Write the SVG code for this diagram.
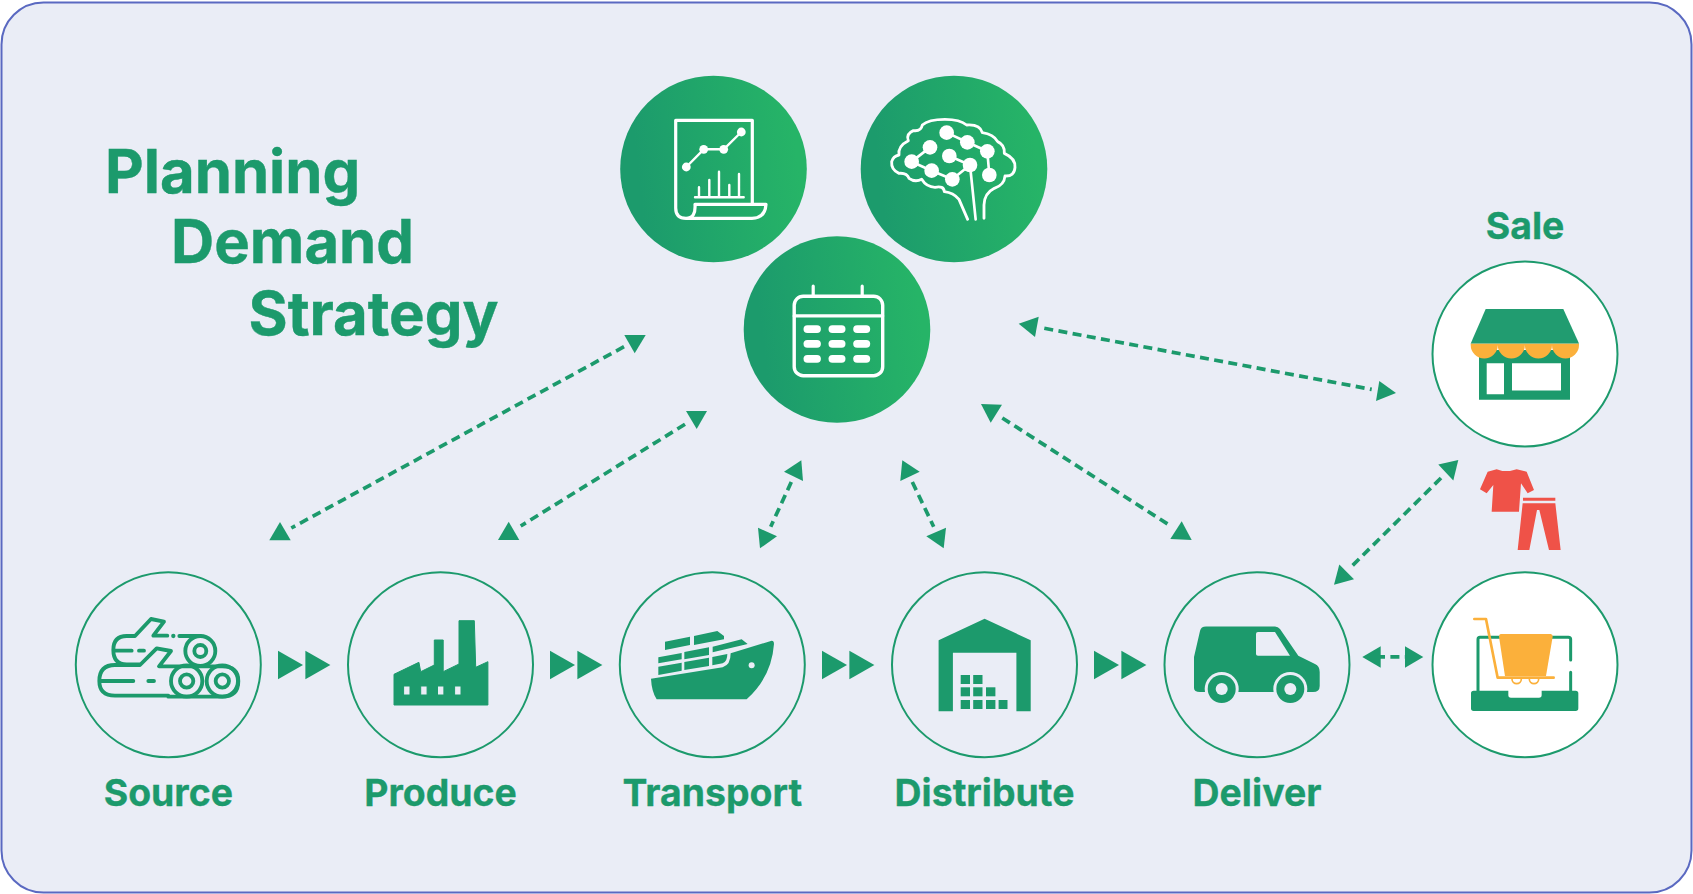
<svg xmlns="http://www.w3.org/2000/svg" width="1693" height="894" viewBox="0 0 1693 894">
<style>
.lbl{font-family:Inter,"Liberation Sans",sans-serif;font-weight:700;font-size:37.4px;fill:#1C9A6C;text-anchor:middle;stroke:#1C9A6C;stroke-width:.3}
.ttl{font-family:Inter,"Liberation Sans",sans-serif;font-weight:700;font-size:59.8px;fill:#1C9A6C;stroke:#1C9A6C;stroke-width:.4}
.ring{fill:none;stroke:#1C9A6C;stroke-width:2}
.ringw{fill:#fff;stroke:#1C9A6C;stroke-width:2}
.g{fill:#1C9A6C}
.dash{fill:none;stroke:#1C9A6C;stroke-width:3.7;stroke-dasharray:9 5.4}
.w{fill:none;stroke:#fff;stroke-linecap:round;stroke-linejoin:round}
.ws{fill:#fff}
.bg{fill:#EAEDF6}
.sl{fill:none;stroke:#1C9A6C;stroke-width:11.5;stroke-linecap:round;stroke-linejoin:round}
</style>
<defs>
<linearGradient id="grad" x1="0.1" y1="0.55" x2="0.95" y2="0.45">
<stop offset="0" stop-color="#1C9B6C"/><stop offset="1" stop-color="#26B467"/>
</linearGradient>
<polygon id="chev" points="0,-14.3 25,0 0,14.3" fill="#1C9A6C"/>
</defs>
<rect x="1.5" y="2.5" width="1690" height="890" rx="42" fill="#EAEDF6" stroke="#5A69C1" stroke-width="2"/>
<g id="title">
<text class="ttl" x="105" y="193.3">Planning</text>
<text class="ttl" x="171" y="263.3">Demand</text>
<text class="ttl" x="248.5" y="335.3">Strategy</text>
</g>
<g id="connectors">
<line class="dash" x1="624" y1="346.7" x2="291.3" y2="528"/>
<polygon class="g" points="624.3,335 645.7,335 634.7,353.3"/>
<polygon class="g" points="280,522 269.3,540.3 290.7,540.3"/>
<line class="dash" x1="685" y1="424.3" x2="520.7" y2="526"/>
<polygon class="g" points="686,411 707,411 696.7,429"/>
<polygon class="g" points="508.7,521.7 498,540 519.3,540"/>
<line class="dash" x1="791.3" y1="482" x2="770.7" y2="526.7"/>
<polygon class="g" points="801.3,460.3 784,471.7 803,481"/>
<polygon class="g" points="758,527.7 777,536.3 760,548.3"/>
<line class="dash" x1="912.3" y1="482" x2="933.7" y2="526.7"/>
<polygon class="g" points="902.3,460.3 919.7,471.7 900.3,481"/>
<polygon class="g" points="946,527.7 926.3,536.3 943.7,548.3"/>
<line class="dash" x1="1002.3" y1="418" x2="1170.7" y2="526"/>
<polygon class="g" points="981,404 1002,404.7 990.7,422.7"/>
<polygon class="g" points="1181.7,521.3 1170.3,539 1191.7,540"/>
<line class="dash" x1="1044.3" y1="328.3" x2="1371.7" y2="389.4"/>
<polygon class="g" points="1038.7,316.7 1018.7,323.7 1035,337"/>
<polygon class="g" points="1379.3,380.9 1396,393.1 1376,400.9"/>
<line class="dash" x1="1441" y1="478" x2="1351.7" y2="566.3"/>
<polygon class="g" points="1458.3,460 1438.3,464.5 1453.3,480.4"/>
<polygon class="g" points="1339.3,564.4 1334,584.8 1354,579.2"/>
<line class="dash" x1="1376" y1="656.9" x2="1410" y2="656.9"/>
<polygon class="g" points="1380.7,646.2 1362.3,656.9 1380.7,667.7"/>
<polygon class="g" points="1405,646.2 1423.3,656.9 1405,667.7"/>
<use href="#chev" x="278" y="665"/><use href="#chev" x="305.4" y="665"/>
<use href="#chev" x="550" y="665"/><use href="#chev" x="577.4" y="665"/>
<use href="#chev" x="822" y="665"/><use href="#chev" x="849.4" y="665"/>
<use href="#chev" x="1094" y="665"/><use href="#chev" x="1121.4" y="665"/>
</g>
<g id="node-analytics">
<circle cx="713.5" cy="169" r="93.3" fill="url(#grad)"/>
<path class="w" stroke-width="3.2" d="M695 204.3H766Q765 218.3 752 218.3H686Q675.7 218.3 675.7 208V120.3H752.3V204.3M695 204.3Q696 218.3 686 218.3"/>
<path class="w" stroke-width="2.4" d="M686.3 167L703.7 149.3H723.7L741.3 132M695 197.3H743.7M699 197.3V187.3M709.3 197.3V180M719 197.3V171.7M729.3 197.3V185M739 197.3V174"/>
<circle class="ws" cx="686.3" cy="167" r="4.4"/><circle class="ws" cx="703.7" cy="149.3" r="4.4"/><circle class="ws" cx="723.7" cy="149.3" r="4.4"/><circle class="ws" cx="741.3" cy="132" r="4.4"/>
</g>
<g id="node-brain">
<circle cx="954" cy="169" r="93.3" fill="url(#grad)"/>
<g transform="translate(885 110) scale(.3333)">
<path class="w" stroke-width="8.5" d="M248 328L222 268Q205 248 178 245Q176 226 150 232Q125 232 110 208Q90 218 72 205Q66 188 42 190Q18 180 20 155Q25 138 42 135Q38 108 70 92Q62 72 85 62Q108 65 112 45Q130 28 180 28Q225 28 245 45Q285 42 292 68Q325 72 338 95Q360 105 358 130Q392 145 390 172Q388 200 360 198Q358 225 328 235Q298 250 297 285V325"/>
<path class="w" stroke-width="8" d="M185 68L247 97L307 124L313 195M193 138L255 165M135 112L80 155L140 182L202 208L255 165L272 328"/>
<circle class="ws" cx="185" cy="68" r="22"/><circle class="ws" cx="247" cy="97" r="22"/><circle class="ws" cx="307" cy="124" r="22"/><circle class="ws" cx="313" cy="195" r="22"/><circle class="ws" cx="255" cy="165" r="22"/><circle class="ws" cx="193" cy="138" r="22"/><circle class="ws" cx="135" cy="112" r="22"/><circle class="ws" cx="80" cy="155" r="22"/><circle class="ws" cx="140" cy="182" r="22"/><circle class="ws" cx="202" cy="208" r="22"/>
</g>
</g>
<g id="node-calendar">
<circle cx="837" cy="329.5" r="93.3" fill="url(#grad)"/>
<g transform="translate(-.8 -.8)">
<rect x="795" y="297" width="88.5" height="79.5" rx="9" fill="none" stroke="#fff" stroke-width="3.4"/>
<path class="w" stroke-width="3.2" d="M795 316.7H883.5M814 287V297M863 287V297"/>
<g class="ws">
<rect x="804.3" y="326" width="17.4" height="7.8" rx="3.9"/><rect x="829.3" y="326" width="17" height="7.8" rx="3.9"/><rect x="854" y="326" width="17" height="7.8" rx="3.9"/>
<rect x="804.3" y="340.7" width="17.4" height="7.8" rx="3.9"/><rect x="829.3" y="340.7" width="17" height="7.8" rx="3.9"/><rect x="854" y="340.7" width="17" height="7.8" rx="3.9"/>
<rect x="804.3" y="355.7" width="17.4" height="7.8" rx="3.9"/><rect x="829.3" y="355.7" width="17" height="7.8" rx="3.9"/><rect x="854" y="355.7" width="17" height="7.8" rx="3.9"/>
</g>
</g>
</g>
<g id="node-source">
<circle class="ring" cx="168.3" cy="664.7" r="92.5"/>
<g transform="translate(90 605) scale(.3333)">
<circle class="sl" cx="331" cy="138" r="45"/><circle class="sl" cx="331" cy="138" r="18"/>
<path class="sl" d="M148 178H110Q70 178 70 135Q70 93 110 93H135L183 42L222 50L190 92H232M268 93H331M72 137H125M147 137H162"/>
<circle class="g" cx="250" cy="93" r="6.5"/>
<path class="sl" d="M235 272H75Q28 272 28 228Q28 180 75 180H150L200 130L243 138L207 184H397Q445 184 445 228Q445 275 397 275H235M30 228H130M175 228H192"/>
<circle class="sl" cx="290" cy="228" r="47"/><circle class="sl" cx="290" cy="228" r="20"/>
<circle class="sl" cx="397" cy="228" r="47"/><circle class="sl" cx="397" cy="228" r="20"/>
</g>
<text class="lbl" x="168.3" y="805.6">Source</text>
</g>
<g id="node-produce">
<circle class="ring" cx="440.5" cy="664.7" r="92.5"/>
<path class="g" fill-rule="evenodd" stroke="#1C9A6C" stroke-width="1" stroke-linejoin="round" d="M394 674.3L418.9 662.3L420.7 671.7L434.3 665V640H443.2V671.7L459 664V620.7H474.3L475.7 667.3L487.9 661.7V705H394ZM403.6 686V695H410V686ZM420.7 686V695H427.1V686ZM437.5 686V695H443.9V686ZM454.6 686V695H461V686Z"/>
<text class="lbl" x="440.5" y="805.6">Produce</text>
</g>
<g id="node-transport">
<circle class="ring" cx="712.3" cy="664.7" r="92.5"/>
<g class="g" transform="translate(640 620) scale(.3333)">
<path d="M33 176L248 142Q272 135 272 100L395 62Q402 62 402 72Q395 170 320 238H50Q35 215 33 176Z"/>
<path d="M75 65L150 50V75L75 90ZM162 48L232 33L252 48V58L162 75ZM55 112L125 99V118L55 130ZM133 96L207 82V105L133 118ZM218 80L305 58L323 72L218 97ZM55 140L125 128V152L55 165ZM133 126L207 113V138L133 150ZM217 111L262 102Q262 125 248 130L217 136Z"/>
<circle class="bg" cx="335" cy="136" r="9"/>
</g>
<text class="lbl" x="712.3" y="805.6">Transport</text>
</g>
<g id="node-distribute">
<circle class="ring" cx="984.5" cy="664.7" r="92.5"/>
<path class="g" d="M984.6 618.7L1030.7 640.3V711.3H1016.4V652.7H952.9V711.3H938.6V640.3Z"/>
<g class="g">
<rect x="960.7" y="675" width="9.3" height="9"/><rect x="973.2" y="675" width="9.3" height="9"/>
<rect x="960.7" y="687.3" width="9.3" height="9"/><rect x="973.2" y="687.3" width="9.3" height="9"/><rect x="986" y="687.3" width="9.4" height="9"/>
<rect x="960.7" y="700" width="9.3" height="9"/><rect x="973.2" y="700" width="9.3" height="9"/><rect x="986" y="700" width="9.4" height="9"/><rect x="998.6" y="700" width="8.9" height="9"/>
</g>
<text class="lbl" x="984.5" y="805.6">Distribute</text>
</g>
<g id="node-deliver">
<circle class="ring" cx="1257" cy="664.7" r="92.5"/>
<path class="g" d="M1194 688V656.9L1200 631Q1201 626.6 1206 626.6H1275Q1278 626.6 1280 629.1L1298.3 655.8L1315 664Q1319.7 666 1319.7 672V686Q1319.7 692 1313 692H1200Q1194 692 1194 688Z"/>
<path class="bg" d="M1256 634Q1256 632 1258 632H1275L1290 655.8H1258Q1256 655.8 1256 654Z"/>
<circle class="bg" cx="1221.7" cy="689" r="17"/><circle class="bg" cx="1290.3" cy="689" r="17"/>
<circle class="g" cx="1221.7" cy="689" r="14"/><circle class="g" cx="1290.3" cy="689" r="14"/>
<circle class="bg" cx="1221.7" cy="689" r="6"/><circle class="bg" cx="1290.3" cy="689" r="6"/>
<text class="lbl" x="1257" y="805.6">Deliver</text>
</g>
<g id="node-sale">
<circle class="ringw" cx="1525" cy="354" r="92.5"/>
<path fill="#1C9A6C" d="M1479 350H1570V399.8H1479ZM1486.7 363.2V394.2H1504V363.2ZM1512 363.2V390.5H1561V363.2Z" fill-rule="evenodd"/>
<path fill="#FBB03B" d="M1470.7 343.5H1579V345A13.5 13.5 0 0 1 1552 345A13.5 13.5 0 0 1 1524.9 345A13.5 13.5 0 0 1 1497.8 345A13.5 13.5 0 0 1 1470.7 345Z"/>
<path fill="#219C70" d="M1485.7 309.1H1563.3L1579 343.5H1470.7Z"/>
<text class="lbl" x="1525" y="239">Sale</text>
</g>
<g id="node-clothes" fill="#EF5248">
<g transform="translate(1465 460) scale(.3333)">
<path d="M68 35L95 28L112 33H135L155 28L185 35L207 90L188 100L168 70L162 155H80L85 75L65 100L45 88Z"/>
<path d="M174 113H271V122H174ZM173 130H271L287 270H252L223 150H216L193 270H158Z"/>
</g>
</g>
<g id="node-online">
<circle class="ringw" cx="1525" cy="664.7" r="92.5"/>
<g transform="translate(1460 605) scale(.3333)">
<path fill="none" stroke="#1C9A6C" stroke-width="9" stroke-linecap="round" d="M54 258V103Q54 97 60 97H325Q332 97 332 103V165M332 202V258"/>
<path fill="#1C9A6C" d="M41 257H145V270Q145 278 153 278H237Q245 278 245 270V257H347Q355 257 355 265V310Q355 318 347 318H41Q33 318 33 310V265Q33 257 41 257Z"/>
<path fill="#FBB03B" d="M122 87H272Q278 87 278 95L258 213H135L117 95Q117 87 122 87Z"/>
<path fill="none" stroke="#FBB03B" stroke-width="8" stroke-linecap="round" stroke-linejoin="round" d="M43 42H78L113 218H281"/>
<path fill="none" stroke="#FBB03B" stroke-width="5" d="M156 222A14 14 0 0 0 184 222M208 222A14 14 0 0 0 236 222"/>
</g>
</g>
</svg>
